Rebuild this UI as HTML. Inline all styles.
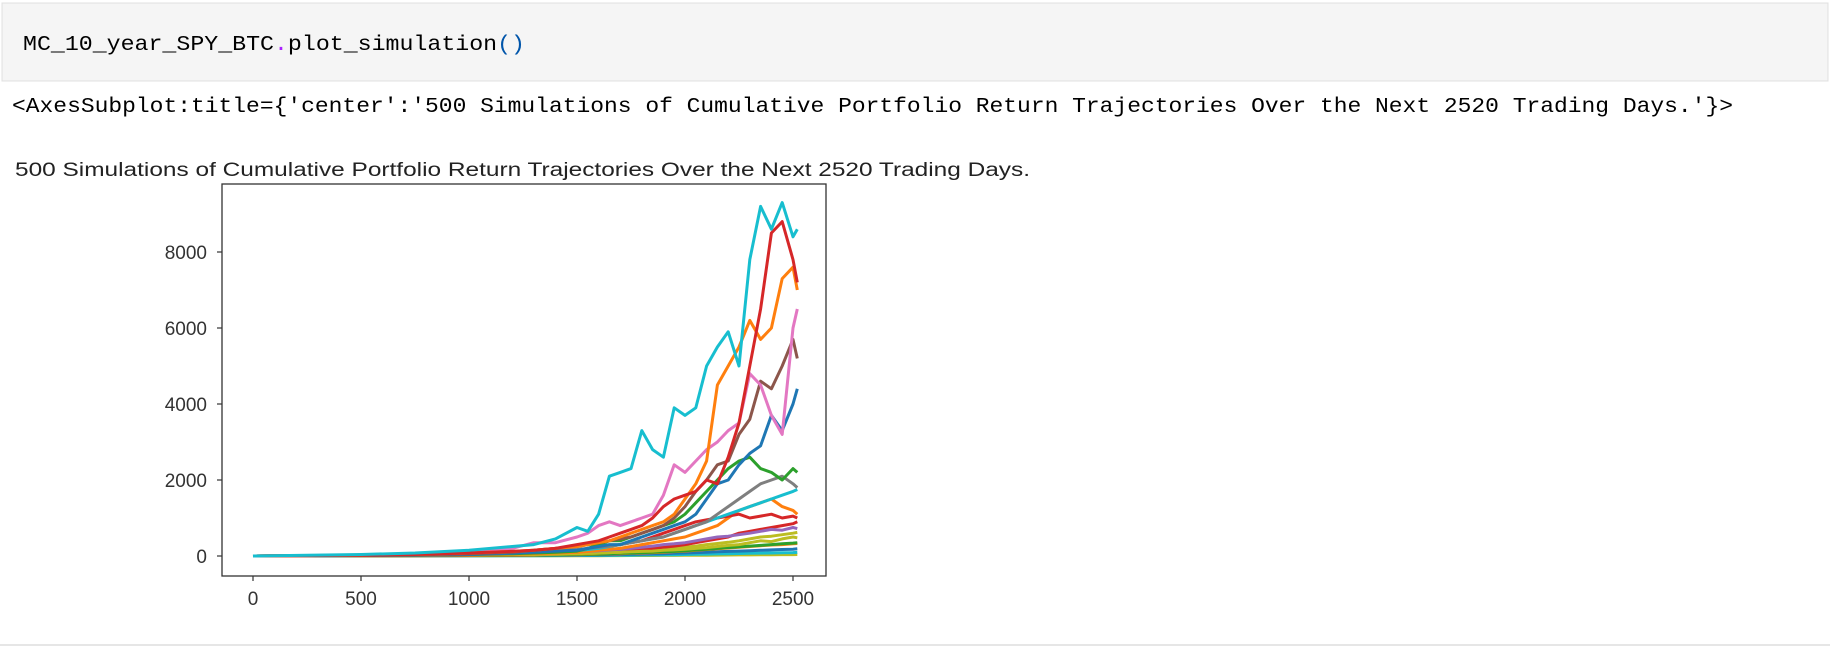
<!DOCTYPE html>
<html><head><meta charset="utf-8"><style>
html,body{margin:0;padding:0;background:#fff;width:1830px;height:650px;overflow:hidden}
svg{display:block}
</style></head><body>
<svg id="s" width="1830" height="650" xmlns="http://www.w3.org/2000/svg">
<rect x="2" y="3" width="1826" height="78" fill="#f5f5f5" stroke="#e0e0e0"/>
<text x="23" y="50" font-family="Liberation Mono, monospace" font-size="21" textLength="502" lengthAdjust="spacingAndGlyphs" fill="#000">MC_10_year_SPY_BTC<tspan fill="#aa22ff">.</tspan>plot_simulation<tspan fill="#0055aa">()</tspan></text>
<text x="12" y="112" font-family="Liberation Mono, monospace" font-size="21" textLength="1721" lengthAdjust="spacingAndGlyphs" fill="#000">&lt;AxesSubplot:title={'center':'500 Simulations of Cumulative Portfolio Return Trajectories Over the Next 2520 Trading Days.'}&gt;</text>
<text x="15" y="176" font-family="Liberation Sans, sans-serif" font-size="19" textLength="1015" lengthAdjust="spacingAndGlyphs" fill="#222">500 Simulations of Cumulative Portfolio Return Trajectories Over the Next 2520 Trading Days.</text>
<line x1="0" y1="645" x2="1830" y2="645" stroke="#e6e6e6" stroke-width="2"/>
<g id="plot"></g>
</svg>
<script>
const days=[0,250,500,750,1000,1200,1300,1400,1500,1550,1600,1650,1700,1750,1800,1850,1900,1950,2000,2050,2100,2150,2200,2250,2300,2350,2400,2450,2500,2520];
const seriesColors=["#bcbd22","#9467bd","#8c564b","#7f7f7f","#1f77b4","#ff7f0e","#2ca02c","#e377c2","#d62728","#17becf"];
const s0=[0,5,10,15,25,35,40,50,60,70,80,90,100,110,120,130,150,160,180,200,220,250,280,300,350,400,380,450,500,480];
const s1=[0,8,15,25,40,60,70,90,110,120,140,160,180,200,230,260,300,320,350,400,450,500,520,560,600,650,700,680,750,720];
const s2=[0,8,15,30,60,100,150,200,250,300,350,400,450,500,600,700,800,1000,1300,1700,2000,2400,2500,3200,3600,4600,4400,5000,5700,5200];
const s3=[0,8,15,30,50,80,100,130,170,200,230,260,300,350,400,450,500,600,700,800,900,1100,1300,1500,1700,1900,2000,2100,1900,1800];
const s4=[0,5,10,20,40,70,100,130,150,200,250,300,300,400,500,600,700,800,900,1100,1500,1900,2000,2400,2700,2900,3700,3300,4000,4400];
const s5=[0,10,20,40,80,120,150,200,250,300,350,400,500,600,700,800,900,1100,1500,1900,2500,4500,5000,5500,6200,5700,6000,7300,7600,7000];
const s6=[0,5,10,20,40,60,80,100,130,200,300,400,400,500,600,700,800,900,1100,1400,1700,2000,2300,2500,2600,2300,2200,2000,2300,2200];
const s7=[0,10,30,60,120,200,350,350,500,600,800,900,800,900,1000,1100,1600,2400,2200,2500,2800,3000,3300,3500,4800,4500,3700,3200,6000,6500];
const s8=[0,10,20,40,80,120,150,200,300,350,400,500,600,700,800,1000,1300,1500,1600,1700,2000,1900,2600,3500,5000,6500,8500,8800,7800,7200];
const s9=[0,20,40,80,150,250,300,450,750,650,1100,2100,2200,2300,3300,2800,2600,3900,3700,3900,5000,5500,5900,5000,7800,9200,8600,9300,8400,8600];
const s10=[0,5,10,15,30,50,60,80,100,120,150,180,200,250,300,350,400,450,500,600,700,800,1000,1200,1300,1400,1500,1300,1200,1100];
const s11=[0,4,8,12,20,30,40,50,60,70,90,110,130,150,170,200,230,260,300,350,400,450,500,600,650,700,750,800,850,900];
const s12=[0,3,6,10,15,20,25,30,40,45,50,60,70,80,90,100,110,120,140,160,180,200,220,240,260,280,300,320,340,350];
const s13=[0,5,12,25,45,70,90,120,150,180,220,260,300,350,400,500,600,700,800,900,950,1000,1050,1100,1000,1050,1100,1000,1050,1000];
const s14=[0,6,12,25,45,70,90,110,140,170,200,250,300,350,400,450,500,600,700,800,900,1000,1100,1200,1300,1400,1500,1600,1700,1750];
const s15=[0,2,4,6,10,14,16,20,24,28,30,35,40,45,50,55,60,70,80,90,100,110,120,130,140,150,160,170,180,190];
const s16=[0,1,2,3,5,7,8,10,12,14,15,17,20,22,25,28,30,35,40,45,50,55,60,65,70,75,80,85,90,95];
const s17=[0,3,7,12,20,30,35,45,55,65,75,90,100,120,140,160,180,200,230,260,300,330,360,400,450,500,520,560,600,620];
const s18=[0,2,5,8,12,18,22,28,34,40,45,55,60,70,80,90,100,115,130,150,170,190,210,230,250,270,290,300,320,330];
const s19=[0,1,1,2,3,4,5,6,7,8,9,10,11,12,13,14,15,16,18,20,22,24,26,28,30,32,34,36,38,40];
const seriesValues=[s19,s16,s15,s18,s12,s17,s11,s0,s1,s10,s13,s14,s3,s6,s4,s2,s7,s5,s8,s9];
const colorOrder=[0,9,4,5,6,0,8,0,1,5,8,9,3,6,4,2,7,5,8,9];
const yTicks=[0,2000,4000,6000,8000];
const xTicks=[0,500,1000,1500,2000,2500];

const X=v=>253+v*(108/500);
const Y=v=>556-v*(76/2000);
const NS="http://www.w3.org/2000/svg";
const g=document.getElementById('plot');
function mk(tag,attrs){const e=document.createElementNS(NS,tag);for(const k in attrs)e.setAttribute(k,attrs[k]);g.appendChild(e);return e;}
seriesValues.forEach((vals,i)=>{
  const d=vals.map((v,j)=>(j?'L':'M')+X(days[j]).toFixed(1)+','+Y(v).toFixed(1)).join(' ');
  const p=mk('path',{d:d,fill:'none',stroke:seriesColors[colorOrder[i]],'stroke-width':3,'stroke-linejoin':'round'});
  
  
});
const frame=mk('rect',{x:222,y:184,width:604,height:392,fill:'none',stroke:'#333','stroke-width':1.3});


yTicks.forEach(t=>{
  const l=mk('line',{x1:217,x2:222,y1:Y(t),y2:Y(t),stroke:'#333','stroke-width':1.2});
  
  
  const tx=mk('text',{x:207,y:Y(t)+7,'text-anchor':'end','font-family':'Liberation Sans, sans-serif','font-size':19,fill:'#333'});
  tx.textContent=t;
  
  
});
xTicks.forEach(t=>{
  const l=mk('line',{x1:X(t),x2:X(t),y1:576,y2:581,stroke:'#333','stroke-width':1.2});
  
  
  const tx=mk('text',{x:X(t),y:605,'text-anchor':'middle','font-family':'Liberation Sans, sans-serif','font-size':19,fill:'#333'});
  tx.textContent=t;
  
  
});
</script>
</body></html>
